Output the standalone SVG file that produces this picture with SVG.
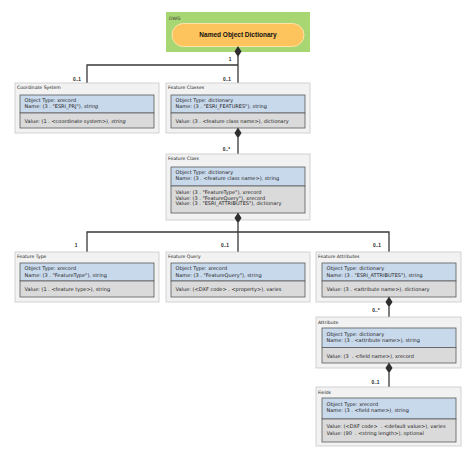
<svg xmlns="http://www.w3.org/2000/svg" width="474" height="460" viewBox="0 0 474 460">
<style>
text{font-family:"DejaVu Sans","Liberation Sans",sans-serif;font-size:5px;fill:#222}
.outer{fill:#f2f2f2;stroke:#c8c8c8;stroke-width:0.8}
.blue{fill:#c9d9ec;stroke:#5a5a5a;stroke-width:0.8}
.grey{fill:#dadada;stroke:#5a5a5a;stroke-width:0.8}
.mult{font-family:"Liberation Sans",Arial,sans-serif;font-size:4.8px;font-weight:bold;text-anchor:end}
.lbl{font-size:4.6px}
.conn{fill:none;stroke:#383838;stroke-width:1.3}
.dia{fill:#2e2e2e}
.pre{white-space:pre}
</style>
<defs>
<path id="diamond" d="M0,0 L3.5,5.5 L0,11 L-3.5,5.5 Z"/>
</defs>
<rect width="474" height="460" fill="#ffffff"/>

<g id="connectors">
<path class="conn" d="M238,56 V95 M238,65 H87 V95"/>
<path class="conn" d="M238,138 V167"/>
<path class="conn" d="M238,223 V263 M87,263 V232 H389 V263"/>
<path class="conn" d="M389,307 V328"/>
<path class="conn" d="M389,373 V398"/>
<text class="mult" x="231.5" y="60.5">1</text>
<text class="mult" x="81" y="80.5">0..1</text>
<text class="mult" x="231" y="80.5">0..1</text>
<text class="mult" x="230" y="150.5">0..*</text>
<text class="mult" x="77.5" y="246.5">1</text>
<text class="mult" x="229" y="246.5">0..1</text>
<text class="mult" x="381" y="246.5">0..1</text>
<text class="mult" x="379.5" y="311.5">0..*</text>
<text class="mult" x="379.5" y="383.5">0..1</text>
</g>

<g id="dwg">
<rect x="166" y="12" width="144" height="40" fill="#a8d672"/>
<text class="lbl" x="169" y="19.5" style="fill:#333">DWG</text>
<rect x="172" y="23.5" width="132" height="23" rx="11.5" fill="#fdc35c" stroke="#fde4aa" stroke-width="1"/>
<text x="238" y="37.3" style="font-family:'Liberation Sans',Arial,sans-serif;font-size:6.5px;font-weight:bold;text-anchor:middle;fill:#111">Named Object Dictionary</text>
<use href="#diamond" class="dia" x="238" y="46"/>
</g>

<g id="coordinate-system">
<rect class="outer" x="15" y="83" width="144" height="50"/>
<text class="lbl" x="17" y="88.5">Coordinate System</text>
<rect class="blue" x="20" y="95" width="134" height="18"/>
<text x="24.5" y="101.5">Object Type: xrecord</text>
<text x="24.5" y="108.2">Name: (3 . "ESRI_PRJ"), <tspan font-style="italic">string</tspan></text>
<rect class="grey" x="20" y="113" width="134" height="15"/>
<text x="24.5" y="122.8">Value: (1 . &lt;coordinate system&gt;), <tspan font-style="italic">string</tspan></text>
</g>

<g id="feature-classes">
<rect class="outer" x="166" y="83" width="144" height="50"/>
<text class="lbl" x="168" y="88.5">Feature Classes</text>
<rect class="blue" x="171" y="95" width="134" height="18"/>
<text x="175.5" y="101.5">Object Type: dictionary</text>
<text x="175.5" y="108.2">Name: (3 . "ESRI_FEATURES"), string</text>
<rect class="grey" x="171" y="113" width="134" height="15"/>
<text x="175.5" y="122.8">Value: (3 . &lt;feature class name&gt;), dictionary</text>
<use href="#diamond" class="dia" x="238" y="127.5"/>
</g>

<g id="feature-class">
<rect class="outer" x="166" y="154" width="144" height="66"/>
<text class="lbl" x="168" y="160">Feature Class</text>
<rect class="blue" x="171" y="167" width="134" height="19"/>
<text x="175.5" y="173.8">Object Type: dictionary</text>
<text x="175.5" y="180">Name: (3 . &lt;feature class name&gt;), string</text>
<rect class="grey" x="171" y="186" width="134" height="27"/>
<text x="175.5" y="193.8">Value: (3 . "FeatureType"), xrecord</text>
<text x="175.5" y="199.6">Value: (3 . "FeatureQuery"), xrecord</text>
<text x="175.5" y="205.4">Value: (3 . "ESRI_ATTRIBUTES"), dictionary</text>
<use href="#diamond" class="dia" x="238" y="212.5"/>
</g>

<g id="feature-type">
<rect class="outer" x="15" y="252" width="144" height="50"/>
<text class="lbl" x="17" y="257.5">Feature Type</text>
<rect class="blue" x="20" y="263" width="134" height="18"/>
<text x="24.5" y="270.3">Object Type: xrecord</text>
<text x="24.5" y="276.6">Name: (3 . "FeatureType"), string</text>
<rect class="grey" x="20" y="281" width="134" height="16"/>
<text x="24.5" y="291.3">Value: (1 . &lt;feature type&gt;), string</text>
</g>

<g id="feature-query">
<rect class="outer" x="166" y="252" width="144" height="50"/>
<text class="lbl" x="168" y="257.5">Feature Query</text>
<rect class="blue" x="171" y="263" width="134" height="18"/>
<text x="175.5" y="270.3">Object Type: xrecord</text>
<text x="175.5" y="276.6">Name: (3 . "FeatureQuery"), string</text>
<rect class="grey" x="171" y="281" width="134" height="16"/>
<text x="175.5" y="291.3">Value: (&lt;DXF code&gt; . &lt;property&gt;), varies</text>
</g>

<g id="feature-attributes">
<rect class="outer" x="316" y="252" width="145" height="50"/>
<text class="lbl" x="318" y="257.5">Feature Attributes</text>
<rect class="blue" x="322" y="263" width="134" height="18"/>
<text x="326.5" y="270.3">Object Type: dictionary</text>
<text x="326.5" y="276.6">Name: (3 . "ESRI_ATTRIBUTES"), string</text>
<rect class="grey" x="322" y="281" width="134" height="16"/>
<text x="326.5" y="291.3">Value: (3 . &lt;attribute name&gt;), dictionary</text>
<use href="#diamond" class="dia" x="389" y="296.5"/>
</g>

<g id="attribute">
<rect class="outer" x="316" y="317" width="145" height="51"/>
<text class="lbl" x="318" y="324.3">Attribute</text>
<rect class="blue" x="322" y="328" width="134" height="19.5"/>
<text x="326.5" y="335.7">Object Type: dictionary</text>
<text x="326.5" y="342.4">Name: (3 . &lt;attribute name&gt;), string</text>
<rect class="grey" x="322" y="347.5" width="134" height="15.5"/>
<text x="326.5" y="357.8" class="pre">Value: (3  . &lt;field name&gt;), xrecord</text>
<use href="#diamond" class="dia" x="389" y="362.5"/>
</g>

<g id="fields">
<rect class="outer" x="316" y="387" width="145" height="59"/>
<text class="lbl" x="318" y="394">Fields</text>
<rect class="blue" x="322" y="398" width="134" height="21"/>
<text x="326.5" y="405.6">Object Type: xrecord</text>
<text x="326.5" y="412.2">Name: (3 . &lt;field name&gt;), string</text>
<rect class="grey" x="322" y="419" width="134" height="23"/>
<text x="326.5" y="428.4" class="pre">Value: (&lt;DXF code&gt;  . &lt;default value&gt;), varies</text>
<text x="326.5" y="434.6" class="pre">Value: (90  . &lt;string length&gt;), optional</text>
</g>
</svg>
